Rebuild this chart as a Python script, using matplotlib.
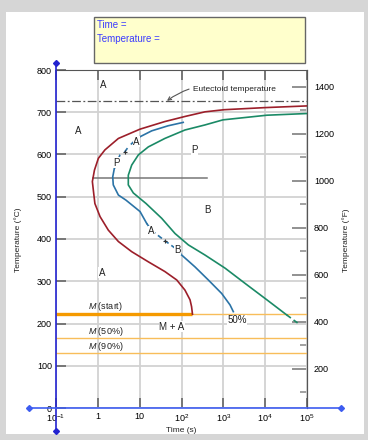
import matplotlib.pyplot as plt
from matplotlib.patches import Rectangle
from matplotlib.lines import Line2D
from matplotlib.ticker import MultipleLocator, NullLocator

plt.rcParams['font.family'] = ['Liberation Sans', 'DejaVu Sans']
plt.rcParams['mathtext.fontset'] = 'custom'
plt.rcParams['mathtext.rm'] = 'Liberation Sans'
plt.rcParams['mathtext.it'] = 'Liberation Sans:italic'

# --- data (time in s, temperature in degC) ---
# transformation start curve (red)
red_t = [1e5, 1e4, 1040, 365, 121, 40, 10.2, 3.1, 1.48, 1.03, 0.83, 0.74, 0.78,
         0.85, 1.13, 1.78, 3.1, 6.45, 16.1, 40, 77, 121, 160, 174, 183]
red_T = [715, 711, 706, 701, 690, 678, 660, 638, 611, 591, 563, 536, 516,
         484, 453, 421, 394, 370, 346, 323, 303, 279, 256, 240, 222]

# 50% curve (blue), split where the picture breaks it around the labels
blue_top_t = [110, 48, 19.4, 10.2, 7.5]
blue_top_T = [676, 668, 656, 642, 632]
blue_top_dash_t = [7.5, 5.35, 4.47, 3.39, 2.83, 2.48]
blue_top_dash_T = [632, 618, 607, 599, 581, 567]
blue_low_t = [2.48, 2.27, 2.34, 3.1, 4.7, 10.2, 14.7]
blue_low_T = [567, 547, 528, 504, 492, 465, 437]
blue_mid_dash_t = [14.7, 19.4, 40, 81, 101]
blue_mid_dash_T = [437, 420, 396, 374, 362]
blue_end_t = [101, 210, 438, 914, 1445, 1734]
blue_end_T = [362, 334, 303, 271, 244, 228]

# transformation finish curve (green)
green_t = [1e5, 1.1e4, 980, 365, 121, 40, 16.1, 9.3, 6.45, 5.35, 5.35, 7.05,
           14.2, 33.6, 70, 146, 365, 1100, 3300, 1.1e4, 3.3e4]
green_T = [697, 693, 682, 670, 658, 638, 618, 599, 575, 551, 528, 509,
           484, 449, 413, 386, 362, 331, 295, 256, 220]
green_dash_t = [3.3e4, 6.2e4]
green_dash_T = [220, 200]

eutectoid_T = 727
bainite_line_t = [0.77, 407]
bainite_line_T = [544, 544]
ms_T = 222
m50_T = 166
m90_T = 130

x_ticks = [0.1, 1, 10, 100, 1000, 1e4, 1e5]
x_labels = [r'$10^{-1}$', '1', '10', r'$10^{2}$', r'$10^{3}$', r'$10^{4}$', r'$10^{5}$']
y_ticks = [0, 100, 200, 300, 400, 500, 600, 700, 800]
f_ticks = [200, 400, 600, 800, 1000, 1200, 1400]

phase_labels = [('A', 1.33, 764), ('A', 0.336, 656), ('P', 209, 611), ('B', 427, 469),
                ('A', 1.26, 320), ('P', 2.82, 581), ('A', 8.5, 630), ('A', 19.4, 418),
                ('B', 80, 375), ('M + A', 59, 192), ('50%', 2140, 208)]
plus_marks_t = [4.37, 40]
plus_marks_T = [607, 396]

RED = '#9c1f2a'
BLUE = '#2b73a6'
GREEN = '#1b8a66'

W, H = 368, 440
fig = plt.figure(figsize=(W / 100, H / 100), dpi=100, facecolor='#d6d6d6')


def fx(x):
    return x / W


def fy(y):
    return 1 - y / H


fig.patches.append(Rectangle((fx(6), fy(434)), fx(364) - fx(6), fy(12) - fy(434),
                             transform=fig.transFigure, facecolor='white',
                             edgecolor='none', zorder=-10))
# readout box
fig.patches.append(Rectangle((fx(94), fy(63)), fx(305) - fx(94), fy(17) - fy(63),
                             transform=fig.transFigure, facecolor='#ffffcc',
                             edgecolor='#666666', lw=1, zorder=-5))
fig.text(fx(97), fy(24.5), 'Time =', color='#3b3bff', fontsize=7, va='center')
fig.text(fx(97), fy(38.5), 'Temperature =', color='#3b3bff', fontsize=7, va='center')

ax = fig.add_axes([fx(56), fy(408), fx(307) - fx(56), fy(70) - fy(408)])
ax.set_facecolor('none')
ax.set_xscale('log')
ax.set_xlim(0.1, 1e5)
ax.set_ylim(0, 800)
ax.set_xticks(x_ticks)
ax.set_xticklabels(x_labels)
ax.xaxis.set_minor_locator(NullLocator())
ax.set_yticks(y_ticks)
ax.grid(True, color='#d2d2d2', lw=1.3, zorder=0)
ax.tick_params(direction='in', length=7, width=1.2, color='#666666', labelsize=6.5,
               pad=3, top=True, right=False)
for s in ['left', 'bottom']:
    ax.spines[s].set_visible(False)
for s in ['top', 'right']:
    ax.spines[s].set_color('#555555')

# martensite lines
ax.axhline(ms_T, color='#f8bd5a', lw=1, zorder=2)
ax.axhline(m50_T, color='#f8bd5a', lw=1, zorder=2)
ax.axhline(m90_T, color='#f8bd5a', lw=1, zorder=2)
ax.plot([0.1, red_t[-1]], [ms_T, ms_T], color='#f59a00', lw=2.4, zorder=3,
        solid_capstyle='butt')

# eutectoid
ax.axhline(eutectoid_T, color='#555555', lw=0.9, linestyle=(0, (7, 2, 1.5, 2)), zorder=2)
ax.annotate('Eutectoid temperature', xy=(45, eutectoid_T), xytext=(190, 755),
            fontsize=6, va='center', color='#222222',
            arrowprops=dict(arrowstyle='->', color='#555555', lw=0.8,
                            connectionstyle='arc3,rad=0.25', shrinkA=1, shrinkB=0))

ax.plot(bainite_line_t, bainite_line_T, color='#777777', lw=1.1, zorder=3)

lw = 1.2
ax.plot(red_t, red_T, color=RED, lw=lw, zorder=4)
ax.plot(blue_top_t, blue_top_T, color=BLUE, lw=lw, zorder=4)
ax.plot(blue_top_dash_t, blue_top_dash_T, color=BLUE, lw=lw, zorder=4, linestyle=(0, (3, 3)))
ax.plot(blue_low_t, blue_low_T, color=BLUE, lw=lw, zorder=4)
ax.plot(blue_mid_dash_t, blue_mid_dash_T, color=BLUE, lw=lw, zorder=4, linestyle=(0, (3, 2)))
ax.plot(blue_end_t, blue_end_T, color=BLUE, lw=lw, zorder=4)
ax.plot(green_t, green_T, color=GREEN, lw=lw, zorder=4)
ax.plot(green_dash_t, green_dash_T, color=GREEN, lw=lw, zorder=4, linestyle=(0, (3, 2)))

for txt, t, T in phase_labels:
    ax.text(t, T, txt, fontsize=7, ha='center', va='center', color='#222222', zorder=5,
            bbox=dict(facecolor='white', edgecolor='none', pad=0.3))
ax.plot(plus_marks_t, plus_marks_T, '+', color='#333333', ms=3, mew=0.8, zorder=6)

ax.text(0.58, ms_T + 18, '$M$ (start)', fontsize=6.5, va='center', color='#222222')
ax.text(0.58, m50_T + 15, '$M$ (50%)', fontsize=6.5, va='center', color='#222222')
ax.text(0.58, m90_T + 15, '$M$ (90%)', fontsize=6.5, va='center', color='#222222')

# right axis in degF
sec = ax.secondary_yaxis('right', functions=(lambda c: c * 9 / 5 + 32,
                                             lambda f: (f - 32) * 5 / 9))
sec.set_yticks(f_ticks)
sec.yaxis.set_minor_locator(MultipleLocator(100))
sec.tick_params(which='major', direction='in', length=11, width=1.3, color='#888888',
                labelsize=6.5, pad=5)
sec.tick_params(which='minor', direction='in', length=5, width=1.1, color='#888888')
sec.spines['right'].set_color('#444444')

fig.text(fx(18), fy(240), 'Temperature (\u00b0C)', rotation=90, fontsize=6,
         ha='center', va='center', color='#222222')
fig.text(fx(346), fy(240), 'Temperature (\u00b0F)', rotation=90, fontsize=6,
         ha='center', va='center', color='#222222')
fig.text(fx(181), fy(430), 'Time (s)', fontsize=6, ha='center', va='center',
         color='#222222')

# blue handles on the axes
fig.add_artist(Line2D([fx(56), fx(56)], [fy(63), fy(431)], transform=fig.transFigure,
                      color='#2323d0', lw=1.2, marker='D', ms=3, markevery=[0, 1]))
fig.add_artist(Line2D([fx(29), fx(341)], [fy(408), fy(408)], transform=fig.transFigure,
                      color='#3d5cf0', lw=1.2, marker='D', ms=3, markevery=[0, 1]))

fig.savefig('out.png', dpi=100, facecolor=fig.get_facecolor())
